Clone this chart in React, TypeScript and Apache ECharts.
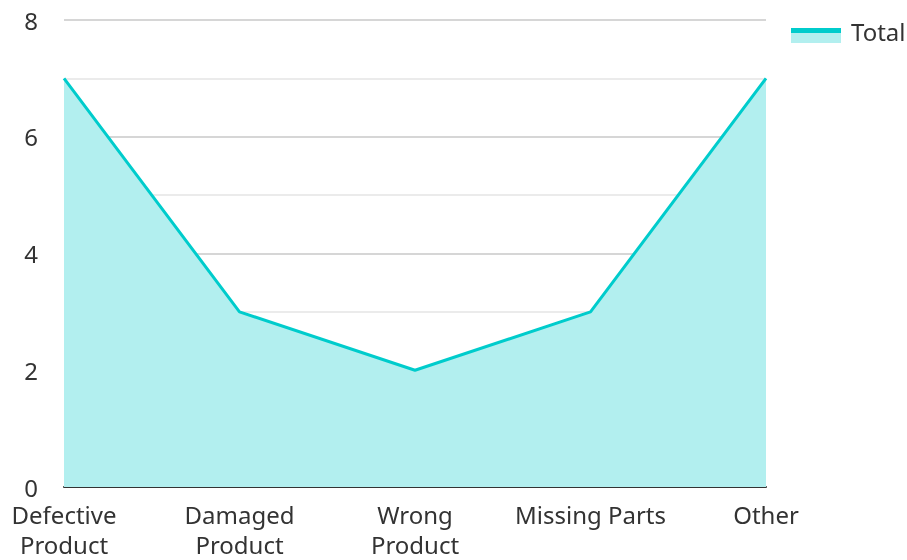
import React, { useEffect, useRef } from "react";
import * as echarts from "echarts";

const categories = ["Defective Product", "Damaged Product", "Wrong Product", "Missing Parts", "Other"];
const categoryLabels = ["Defective\nProduct", "Damaged\nProduct", "Wrong\nProduct", "Missing Parts", "Other"];
const totalValues = [7, 3, 2, 3, 7];
const seriesName = "Total";

const LINE = "#00cccc";
const AREA = "#b2efef";
const FONT = "Noto Sans";
const FS = 24;

export default function App() {
  const ref = useRef<HTMLDivElement>(null);
  useEffect(() => {
    document.body.style.margin = "0";
    const chart = echarts.init(ref.current!, null, { renderer: "svg" });
    chart.setOption({
      animation: false,
      textStyle: { fontFamily: FONT },
      grid: { left: 64, right: 141, top: 20, bottom: 73, containLabel: false, outerBoundsMode: "none" },
      legend: {
        data: [seriesName],
        left: 791,
        top: 19,
        padding: 0,
        icon: "rect",
        itemWidth: 50,
        itemHeight: 15,
        itemGap: 10,
        itemStyle: { color: AREA, borderWidth: 0, opacity: 0 },
        lineStyle: { width: 0 },
        textStyle: { fontSize: FS, color: "#333", fontFamily: FONT, padding: [0, 0, 0, 5] },
      },
      graphic: [
        { type: "rect", left: 791, top: 32, shape: { width: 50, height: 11 }, style: { fill: AREA }, z: 99 },
        { type: "rect", left: 791, top: 28, shape: { width: 50, height: 5 }, style: { fill: LINE }, z: 100 },
      ],
      xAxis: {
        type: "category",
        data: categories,
        boundaryGap: false,
        axisLine: { lineStyle: { color: "#333", width: 2 } },
        axisTick: { show: false },
        axisLabel: {
          interval: 0,
          hideOverlap: false,
          fontSize: FS,
          color: "#333",
          margin: 12,
          lineHeight: 30,
          fontFamily: FONT,
          formatter: (_v: string, i: number) => categoryLabels[i],
        },
      },
      yAxis: {
        type: "value",
        min: 0,
        max: 8,
        interval: 2,
        axisLine: { show: false },
        axisTick: { show: false },
        axisLabel: { fontSize: FS, lineHeight: 20, color: "#333", margin: 26, fontFamily: FONT },
        splitLine: { lineStyle: { color: "#c8c8c8", width: 1.5 } },
        minorTick: { show: false, splitNumber: 2 },
        minorSplitLine: { show: true, lineStyle: { color: "#e4e4e4", width: 1.5 } },
      },
      series: [
        {
          name: seriesName,
          type: "line",
          data: totalValues,
          symbol: "none",
          lineStyle: { color: LINE, width: 3 },
          itemStyle: { color: LINE },
          areaStyle: { color: AREA, opacity: 1 },
          z: 1,
        },
      ],
    });
    return () => chart.dispose();
  }, []);
  return <div ref={ref} style={{ width: 907, height: 560, position: "fixed", left: 0, top: 0 }} />;
}
